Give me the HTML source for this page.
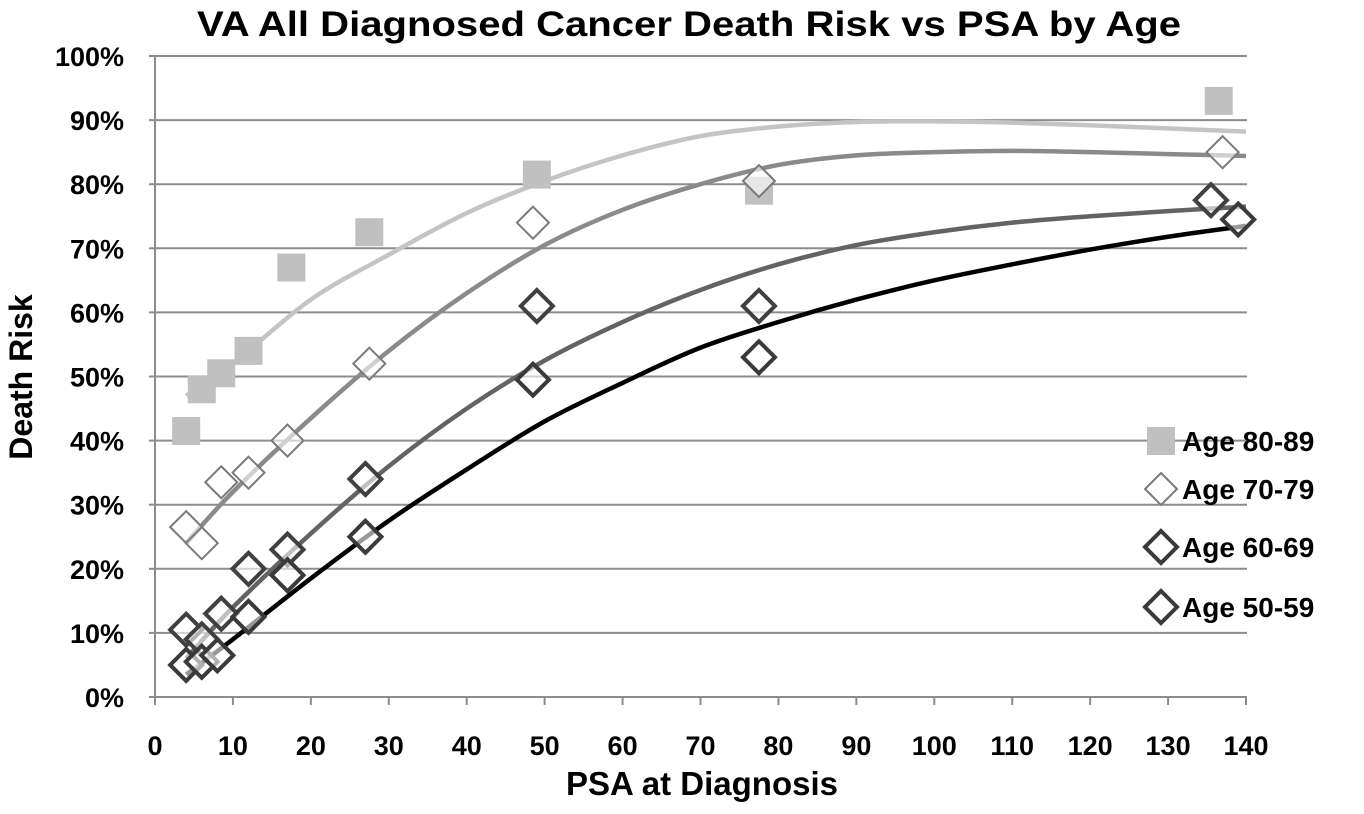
<!DOCTYPE html>
<html><head><meta charset="utf-8"><style>
body{margin:0;background:#fff;}
svg text{font-family:"Liberation Sans",sans-serif;font-weight:bold;fill:#000;}
</style></head><body>
<svg id="chart" width="1364" height="809" xmlns="http://www.w3.org/2000/svg">
<text x="689" y="36" font-size="35" text-anchor="middle" textLength="984" lengthAdjust="spacingAndGlyphs">VA All Diagnosed Cancer Death Risk vs PSA by Age</text>
<text transform="translate(32,377) rotate(-90)" font-size="32" text-anchor="middle">Death Risk</text>
<text x="702" y="795" font-size="33" text-anchor="middle">PSA at Diagnosis</text>
<g id="grid"></g><g id="axes"></g><g id="curves"></g><g id="points"></g><g id="legend"></g>
</svg>
<script>
const xTicks=[0,10,20,30,40,50,60,70,80,90,100,110,120,130,140];
const yTicks=[0,10,20,30,40,50,60,70,80,90,100];
const series=['Age 80-89','Age 70-79','Age 60-69','Age 50-59'];
const psa80=[4,6,8.5,12,17.5,27.5,49,77.5,136.5];
const risk80=[41.5,48,50.5,54,67,72.5,81.5,79,93];
const psa70=[4,6,8.5,12,17,27.5,48.5,77.5,137];
const risk70=[26.5,24,33.5,35,40,52,74,80.5,85];
const psa60=[4,6,8.5,12,17,27,49,77.5,135.5];
const risk60=[10.5,9,13,20,23,34,61,61,77.5];
const psa50=[4,6,8,12,17,27,48.5,77.5,139];
const risk50=[5,5.5,6.5,12.5,19,25,49.5,53,74.5];
const trendX=[4,10,20,30,40,50,60,70,80,90,100,110,120,130,140];
const trend80=[47,52,62,69,75.5,80.5,84.5,87.5,89,89.7,89.8,89.6,89.2,88.7,88.2];
const trend70=[24,32,43.5,54,63,70.5,76,80,83,84.5,85,85.2,85,84.7,84.4];
const trend60=[6,14,25.5,36,45,52.5,58.5,63.5,67.5,70.5,72.5,74,75,75.8,76.5];
const trend50=[3.5,9,18.5,27.5,35.5,43,49,54.5,58.5,62,65,67.5,69.8,71.8,73.5];

const NS='http://www.w3.org/2000/svg';
const X=v=>155+v*(1246-155)/140;
const Y=v=>697-v*(697-56)/100;
function mk(tag,attrs,parent){const e=document.createElementNS(NS,tag);for(const k in attrs)e.setAttribute(k,attrs[k]);document.getElementById(parent).appendChild(e);return e;}
yTicks.forEach(t=>{
  if(t>0){const l=mk('line',{x1:X(0),x2:1247,y1:Y(t),y2:Y(t),stroke:'#8c8c8c','stroke-width':2},'grid');
  
  }
  const tx=mk('text',{x:124,y:Y(t)+10,'font-size':27,'text-anchor':'end'},'axes');tx.textContent=t+'%';
  
  
  const tk=mk('line',{x1:149,x2:X(0),y1:Y(t),y2:Y(t),stroke:'#8c8c8c','stroke-width':2},'axes');
  
  
});
const ya=mk('line',{x1:X(0),x2:X(0),y1:Y(100),y2:Y(0),stroke:'#8c8c8c','stroke-width':2},'axes');


const xa=mk('line',{x1:X(0),x2:1247,y1:Y(0),y2:Y(0),stroke:'#8c8c8c','stroke-width':2},'axes');


xTicks.forEach(t=>{
  const tk=mk('line',{x1:X(t),x2:X(t),y1:Y(0),y2:Y(0)+8,stroke:'#8c8c8c','stroke-width':2},'axes');
  
  
  const tx=mk('text',{x:X(t),y:755,'font-size':27,'text-anchor':'middle'},'axes');tx.textContent=t;
  
  
});
function curve(xs,ys){const p=xs.map((x,i)=>[X(x),Y(ys[i])]);let d='M'+p[0][0]+','+p[0][1];
  for(let i=0;i<p.length-1;i++){const p0=p[i-1]||p[i],p1=p[i],p2=p[i+1],p3=p[i+2]||p2;
    d+=' C'+(p1[0]+(p2[0]-p0[0])/6)+','+(p1[1]+(p2[1]-p0[1])/6)+' '+(p2[0]-(p3[0]-p1[0])/6)+','+(p2[1]-(p3[1]-p1[1])/6)+' '+p2[0]+','+p2[1];}
  return d;}
const trends=[[trend80,'#c4c4c4'],[trend70,'#8a8a8a'],[trend60,'#636363'],[trend50,'#000']];
trends.forEach((t,i)=>{const c=mk('path',{d:curve(trendX,t[0]),fill:'none',stroke:t[1],'stroke-width':4.5},'curves');
  
  });
function sq(x,y,g,name){const e=mk('rect',{x:x-14,y:y-14,width:28,height:28,fill:'#c0c0c0'},g);
  
  }
function dia(x,y,col,w,g,name){const r=16;const e=mk('polygon',{points:`${x},${y-r} ${x+r},${y} ${x},${y+r} ${x-r},${y}`,fill:'#fff','fill-opacity':0.6,stroke:col,'stroke-width':w},g);
  
  }
psa80.forEach((p,i)=>sq(X(p),Y(risk80[i]),'points','point-age-80-89'));
psa70.forEach((p,i)=>dia(X(p),Y(risk70[i]),'#7a7a7a',2,'points','point-age-70-79'));
psa60.forEach((p,i)=>dia(X(p),Y(risk60[i]),'#404040',4,'points','point-age-60-69'));
psa50.forEach((p,i)=>dia(X(p),Y(risk50[i]),'#3a3a3a',4,'points','point-age-50-59'));
const ly=[441,489,547,607];
series.forEach((s,i)=>{
  if(i==0)sq(1161,ly[i],'legend','legend-marker');
  else dia(1161,ly[i],i==1?'#7a7a7a':'#3a3a3a',i==1?2:4,'legend','legend-marker');
  const t=mk('text',{x:1182,y:ly[i]+10,'font-size':28},'legend');t.textContent=s;
  
  
});
</script>
</body></html>
